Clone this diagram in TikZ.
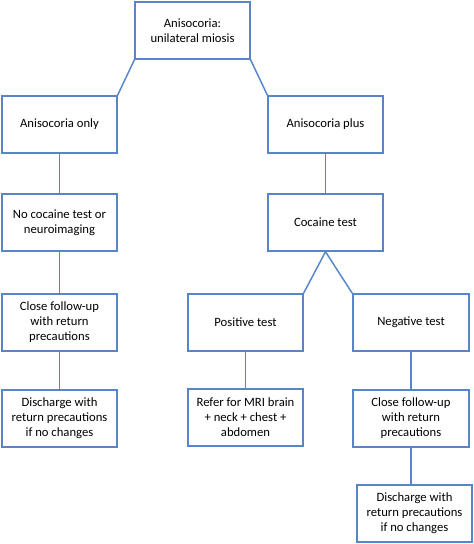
\documentclass[tikz,border=0pt]{standalone}
\usepackage{fontspec}
\setmainfont{Carlito}
\usepackage{tikz}

\definecolor{boxblue}{RGB}{86,134,200}

\tikzset{
  stepbox/.style={draw=boxblue, line width=1.1pt, fill=white, rectangle,
    minimum width=86pt, minimum height=42.75pt, inner sep=0.75pt,
    align=center, font=\fontsize{9.5}{11.2}\selectfont},
  link/.style={draw=boxblue, line width=1.1pt}
}

\begin{document}
\begin{tikzpicture}[x=0.75pt,y=0.75pt,yscale=-1,xscale=1]
        \useasboundingbox (0,0) rectangle (474,544);

        % Boxes
        \node [stepbox] (start) at (192.5,30.5) {Anisocoria:\\unilateral miosis};
        \node [stepbox] (only) at (59.5,124.5) {Anisocoria only};
        \node [stepbox] (plus) at (325.5,124.5) {Anisocoria plus};
        \node [stepbox] (nococaine) at (59.5,222.5) {No cocaine test or\\neuroimaging};
        \node [stepbox] (cocaine) at (325.5,222.5) {Cocaine test};
        \node [stepbox] (followleft) at (59.5,322.5) {Close follow-up\\with return\\precautions};
        \node [stepbox] (positive) at (245.5,322.5) {Positive test};
        \node [stepbox, minimum width=87pt] (negative) at (411,322.5) {Negative test};
        \node [stepbox] (dischargeleft) at (59.5,418.5) {Discharge with\\return precautions\\if no changes};
        \node [stepbox] (mri) at (245.5,417.5) {Refer for MRI brain\\+ neck + chest +\\abdomen};
        \node [stepbox, minimum width=87pt] (followright) at (411,418.5) {Close follow-up\\with return\\precautions};
        \node [stepbox] (dischargeright) at (414.5,513.5) {Discharge with\\return precautions\\if no changes};

        % Straight Lines
        \draw [link] (start.south west) -- (only.north east);
        \draw [link] (start.south east) -- (plus.north west);
        \draw [link] (only) -- (nococaine);
        \draw [link] (plus) -- (cocaine);
        \draw [link] (nococaine) -- (followleft);
        \draw [link] (cocaine.south) -- (positive.north east);
        \draw [link] (cocaine.south) -- (negative.north west);
        \draw [link] (followleft) -- (dischargeleft);
        \draw [link] (positive) -- (mri);
        \draw [link] (negative) -- (followright);
        \draw [link] (followright.south) -- (followright.south |- dischargeright.north);

\end{tikzpicture}
\end{document}
